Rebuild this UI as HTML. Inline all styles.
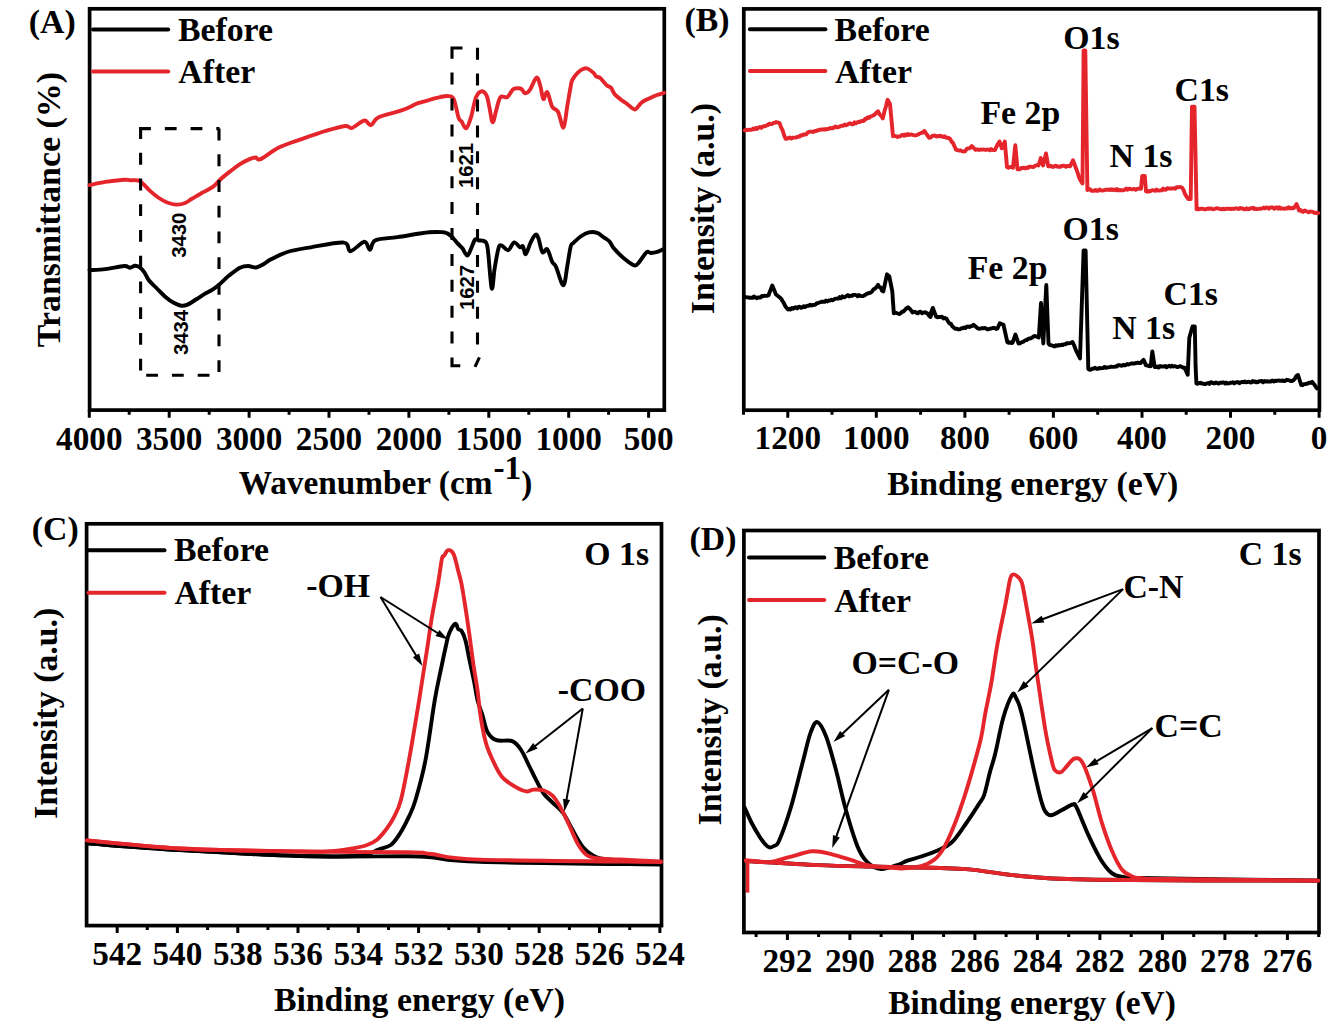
<!DOCTYPE html>
<html><head><meta charset="utf-8"><title>Figure</title>
<style>html,body{margin:0;padding:0;background:#fff;width:1333px;height:1021px;overflow:hidden}
svg{display:block}
text{font-family:"Liberation Serif",serif;font-weight:bold;fill:#000}
text.sans{font-family:"Liberation Sans",sans-serif;font-weight:bold}
</style></head><body>
<svg width="1333" height="1021" viewBox="0 0 1333 1021">
<rect width="1333" height="1021" fill="#fff"/>
<rect x="89.6" y="8.8" width="574.7" height="401.3" fill="none" stroke="#000" stroke-width="3.7"/>
<path d="M89.3 410.2V417.7M169.2 410.2V417.7M249.1 410.2V417.7M329.0 410.2V417.7M408.9 410.2V417.7M488.8 410.2V417.7M568.7 410.2V417.7M648.6 410.2V417.7M129.2 410.2V414.7M209.2 410.2V414.7M289.1 410.2V414.7M369.0 410.2V414.7M448.9 410.2V414.7M528.8 410.2V414.7M608.6 410.2V414.7" stroke="#000" stroke-width="3" fill="none"/>
<text x="89.3" y="449.5" font-size="33.2" text-anchor="middle">4000</text>
<text x="169.2" y="449.5" font-size="33.2" text-anchor="middle">3500</text>
<text x="249.1" y="449.5" font-size="33.2" text-anchor="middle">3000</text>
<text x="329.0" y="449.5" font-size="33.2" text-anchor="middle">2500</text>
<text x="408.9" y="449.5" font-size="33.2" text-anchor="middle">2000</text>
<text x="488.8" y="449.5" font-size="33.2" text-anchor="middle">1500</text>
<text x="568.7" y="449.5" font-size="33.2" text-anchor="middle">1000</text>
<text x="648.6" y="449.5" font-size="33.2" text-anchor="middle">500</text>
<text x="238.7" y="493.7" font-size="33.3">Wavenumber (cm<tspan dy="-15" dx="1">-1</tspan><tspan dy="15">)</tspan></text>
<text x="0" y="0" font-size="33.9" text-anchor="middle" transform="translate(59.5 209.6) rotate(-90)">Transmittance (%)</text>
<text x="28.8" y="33.3" font-size="33.8" >(A)</text>
<path d="M93.0 29.6H168.2" stroke="#000" stroke-width="4" stroke-linecap="round"/>
<path d="M93.0 71.6H168.2" stroke="#e4262c" stroke-width="4" stroke-linecap="round"/>
<text x="177.9" y="41.3" font-size="33.8" >Before</text>
<text x="178.3" y="83.0" font-size="33.8" >After</text>
<path d="M89.5 270.2C92.1 270.0 99.4 269.8 105.2 269.1C111.0 268.4 120.0 266.2 124.1 266.0C128.2 265.8 128.2 267.8 130.0 267.7C131.8 267.6 133.4 265.8 134.9 265.7C136.4 265.6 137.6 265.9 139.1 266.9C140.6 267.9 142.3 269.6 144.0 271.9C145.7 274.2 146.9 277.8 149.0 280.5C151.1 283.2 153.7 285.2 156.4 288.0C159.2 290.8 162.6 294.5 165.5 297.0C168.4 299.5 171.1 301.4 173.7 302.8C176.3 304.2 179.0 305.4 181.2 305.7C183.4 306.0 184.4 305.9 186.9 304.9C189.4 303.9 193.1 301.3 196.0 299.5C198.9 297.7 201.6 295.8 204.3 294.1C207.1 292.5 210.0 291.2 212.5 289.6C215.0 288.0 216.3 287.0 219.1 284.7C221.8 282.4 225.5 278.4 229.0 275.6C232.5 272.8 236.8 269.3 240.0 267.7C243.2 266.1 245.4 266.0 248.1 266.0C250.8 266.0 253.7 267.7 256.0 267.5C258.3 267.3 259.4 266.4 262.0 265.0C264.6 263.6 267.3 261.3 271.5 259.1C275.7 256.9 280.7 254.0 287.3 252.0C293.9 250.0 301.4 248.9 310.9 247.3C320.3 245.7 337.4 241.9 344.0 242.6C350.3 243.2 346.9 251.3 350.3 251.2C353.7 251.1 361.1 242.1 364.4 241.8C367.7 241.6 368.1 250.0 370.0 249.7C371.9 249.4 370.9 242.3 375.5 240.2C380.1 238.1 388.6 238.4 397.5 237.1C406.4 235.8 421.4 233.1 429.0 232.3C436.6 231.5 440.1 232.1 443.2 232.3C446.3 232.5 447.0 233.5 447.8 233.7C447.8 233.9 447.8 233.0 447.8 233.7C448.6 234.3 451.1 236.0 452.7 237.6C454.3 239.2 456.0 241.6 457.6 243.4C459.2 245.2 460.8 246.3 462.4 248.3C464.0 250.3 465.8 255.6 467.3 255.6C468.8 255.6 469.9 251.0 471.2 248.3C472.5 245.6 473.8 240.8 475.1 239.5C476.4 238.2 477.4 240.2 479.0 240.5C480.6 240.8 483.4 240.0 484.9 241.5C486.4 243.0 486.7 241.5 487.8 249.3C488.9 257.1 490.6 285.1 491.7 288.3C492.8 291.6 493.5 275.5 494.6 268.8C495.7 262.1 497.4 252.2 498.5 248.3C499.6 244.4 499.8 245.1 501.4 245.4C503.0 245.7 506.2 250.7 508.3 250.2C510.4 249.7 512.1 242.9 514.1 242.4C516.1 241.9 518.5 246.7 520.0 247.3C521.5 248.0 521.9 245.2 522.9 246.3C523.9 247.4 524.5 254.8 525.8 254.1C527.1 253.4 529.1 245.7 530.7 242.4C532.3 239.2 534.3 235.2 535.6 234.6C536.9 233.9 537.4 235.6 538.5 238.5C539.6 241.4 540.9 250.4 542.4 252.2C543.9 254.0 545.7 247.7 547.3 249.3C548.9 250.9 550.8 259.0 552.2 261.9C553.7 264.8 554.1 262.9 556.0 266.8C557.9 270.7 561.4 285.4 563.3 285.2C565.2 285.0 566.2 271.9 567.4 265.4C568.6 258.9 569.7 250.1 570.7 246.4C571.7 242.7 571.6 244.8 573.2 243.1C574.9 241.4 578.0 238.3 580.6 236.5C583.2 234.7 586.1 233.0 588.9 232.4C591.6 231.8 594.6 232.0 597.1 232.8C599.6 233.6 601.6 235.9 603.7 237.3C605.8 238.8 607.9 239.7 609.5 241.5C611.1 243.3 611.3 245.3 613.6 248.1C615.9 250.8 620.0 255.1 623.5 258.0C627.0 260.9 631.7 264.7 634.3 265.4C636.9 266.1 637.2 264.3 639.2 262.1C641.2 259.9 644.7 253.7 646.6 252.2C648.5 250.7 649.0 253.1 650.8 253.0C652.6 252.9 655.3 252.4 657.4 251.8C659.5 251.2 662.1 249.7 663.1 249.3" fill="none" stroke="#000" stroke-width="3.9" stroke-linejoin="round" stroke-linecap="round"/>
<path d="M89.5 185.1C92.1 184.6 99.4 182.8 105.2 181.9C111.0 181.0 120.0 180.1 124.1 179.8C128.2 179.5 127.6 180.1 130.0 180.2C132.4 180.3 136.1 179.9 138.3 180.5C140.5 181.1 141.1 182.1 143.2 183.9C145.2 185.7 148.0 189.1 150.6 191.4C153.2 193.8 156.2 196.2 158.9 198.0C161.7 199.8 164.2 201.4 167.1 202.5C170.0 203.6 173.3 204.5 176.2 204.6C179.1 204.7 181.9 204.3 184.5 203.3C187.1 202.3 189.0 200.5 191.9 198.8C194.8 197.1 198.4 194.9 201.8 193.0C205.2 191.1 209.3 189.5 212.5 187.2C215.7 184.9 217.7 181.8 220.8 179.0C223.9 176.2 228.1 173.0 231.3 170.5C234.5 168.0 237.0 166.1 240.0 164.2C243.0 162.3 246.9 160.2 249.5 159.1C252.1 158.0 254.0 157.5 255.8 157.5C257.6 157.5 256.6 160.8 260.5 159.1C264.4 157.4 272.3 150.7 279.4 147.3C286.5 143.9 295.1 141.4 303.0 138.6C310.9 135.8 319.5 132.8 326.6 130.7C333.7 128.6 341.3 126.5 345.5 126.0C349.7 125.5 348.7 128.9 351.8 128.0C354.9 127.1 361.2 121.0 364.4 120.5C367.6 120.0 368.4 125.7 370.8 125.2C373.2 124.7 373.4 119.8 378.6 117.3C383.9 114.8 395.7 112.5 402.3 110.2C408.9 107.9 413.0 105.0 418.0 103.2C423.0 101.4 428.5 100.2 432.2 99.2C435.9 98.2 437.4 97.6 440.0 97.1C442.6 96.6 445.5 95.8 447.8 96.1C450.1 96.4 451.9 95.4 453.7 99.0C455.5 102.6 457.2 113.8 458.5 117.5C459.8 121.2 460.2 119.6 461.5 121.4C462.8 123.2 464.7 129.1 466.3 128.3C467.9 127.5 469.6 121.8 471.2 116.6C472.8 111.4 474.3 101.3 476.1 97.1C477.9 92.9 480.1 91.4 481.9 91.2C483.7 91.0 485.5 93.2 486.8 96.1C488.1 99.0 488.7 104.4 489.7 108.8C490.7 113.2 491.5 122.4 492.7 122.4C493.9 122.4 495.3 113.0 496.6 108.8C497.9 104.6 498.7 99.0 500.5 97.1C502.3 95.1 505.2 98.4 507.3 97.1C509.4 95.8 511.3 90.8 513.1 89.3C514.9 87.8 516.5 88.3 518.0 88.3C519.5 88.3 520.8 88.5 521.9 89.3C523.0 90.1 523.5 93.0 524.8 93.2C526.1 93.4 527.8 92.8 529.7 90.2C531.7 87.6 534.7 78.2 536.5 77.6C538.3 76.9 539.2 82.7 540.4 86.3C541.5 89.9 542.2 98.0 543.4 99.0C544.5 100.0 545.8 90.9 547.3 92.2C548.8 93.5 550.4 103.5 552.2 106.8C554.0 110.0 556.1 108.2 558.0 111.7C559.9 115.2 562.0 128.3 563.5 127.6C565.0 126.9 565.9 114.1 567.1 107.3C568.3 100.5 569.7 91.5 570.6 87.0C571.5 82.5 571.1 82.3 572.3 80.0C573.5 77.7 575.8 74.7 577.6 72.9C579.4 71.1 581.3 69.7 582.9 69.0C584.5 68.3 585.5 67.8 587.3 68.5C589.1 69.2 592.0 71.6 593.5 72.9C595.0 74.2 594.9 75.5 596.1 76.4C597.3 77.3 598.7 76.7 600.5 78.2C602.3 79.7 604.9 83.7 606.7 85.3C608.5 86.9 609.8 86.4 611.1 87.9C612.4 89.4 612.8 92.0 614.6 94.1C616.4 96.1 619.6 98.6 621.7 100.2C623.8 101.8 624.8 102.2 627.0 103.8C629.2 105.3 632.5 109.7 634.9 109.5C637.2 109.3 638.9 104.7 641.1 102.9C643.3 101.1 645.5 100.2 648.1 98.9C650.8 97.6 654.4 96.0 657.0 95.0C659.6 94.0 662.8 93.2 664.0 92.8" fill="none" stroke="#e4262c" stroke-width="3.9" stroke-linejoin="round" stroke-linecap="round"/>
<path d="M139.1 128.6H219.5M140.6 127.1V374.8M219 128.6V374.8M146.2 375.3H212" fill="none" stroke="#000" stroke-width="3.1" stroke-dasharray="11.8 13.94"/>
<path d="M450.5 48H463M452 46.7V345M477.5 47.7V345" fill="none" stroke="#000" stroke-width="3.1" stroke-dasharray="12 13.9"/>
<path d="M452 357.6V365.8H460.3M479.4 357.4L475 366.8" fill="none" stroke="#000" stroke-width="3.1"/>
<text x="0" y="0" font-size="20.3" class="sans" text-anchor="middle" transform="translate(178.9 235.3) rotate(-90)" dominant-baseline="central">3430</text>
<text x="0" y="0" font-size="20.3" class="sans" text-anchor="middle" transform="translate(180.8 332.5) rotate(-90)" dominant-baseline="central">3434</text>
<text x="0" y="0" font-size="20.3" class="sans" text-anchor="middle" transform="translate(465.6 165.5) rotate(-90)" dominant-baseline="central">1621</text>
<text x="0" y="0" font-size="20.3" class="sans" text-anchor="middle" transform="translate(467.0 287.5) rotate(-90)" dominant-baseline="central">1627</text>
<rect x="743.8" y="8.9" width="575.6" height="401.3" fill="none" stroke="#000" stroke-width="3.7"/>
<path d="M787.8 410.2V417.7M876.3 410.2V417.7M964.9 410.2V417.7M1053.4 410.2V417.7M1142.0 410.2V417.7M1230.5 410.2V417.7M1319.1 410.2V417.7M743.5 410.2V414.7M832.0 410.2V414.7M920.6 410.2V414.7M1009.1 410.2V414.7M1097.7 410.2V414.7M1186.2 410.2V414.7M1274.8 410.2V414.7" stroke="#000" stroke-width="3" fill="none"/>
<text x="787.8" y="448.6" font-size="33.2" text-anchor="middle">1200</text>
<text x="876.3" y="448.6" font-size="33.2" text-anchor="middle">1000</text>
<text x="964.9" y="448.6" font-size="33.2" text-anchor="middle">800</text>
<text x="1053.4" y="448.6" font-size="33.2" text-anchor="middle">600</text>
<text x="1142.0" y="448.6" font-size="33.2" text-anchor="middle">400</text>
<text x="1230.5" y="448.6" font-size="33.2" text-anchor="middle">200</text>
<text x="1319.1" y="448.6" font-size="33.2" text-anchor="middle">0</text>
<text x="887.3" y="494.9" font-size="33.8" >Binding energy (eV)</text>
<text x="0" y="0" font-size="33.8" text-anchor="middle" transform="translate(714.4 208.6) rotate(-90)">Intensity (a.u.)</text>
<text x="684.4" y="30.6" font-size="33.8" >(B)</text>
<path d="M749.9 29.2H825.4" stroke="#000" stroke-width="4" stroke-linecap="round"/>
<path d="M749.9 70.9H825.4" stroke="#e4262c" stroke-width="4" stroke-linecap="round"/>
<text x="834.6" y="41.3" font-size="33.8" >Before</text>
<text x="835.0" y="83.0" font-size="33.8" >After</text>
<polyline points="744.8,130.4 746.2,129.8 747.5,130.1 748.9,129.7 750.3,129.9 751.7,129.8 753.0,128.6 754.4,129.2 755.8,127.9 757.1,128.9 758.5,127.5 759.9,127.0 761.3,127.9 762.6,126.6 764.0,126.2 765.3,126.3 766.7,125.2 768.0,125.0 769.3,123.7 770.7,124.1 772.0,124.0 773.3,123.0 774.7,122.9 776.0,122.0 779.6,123.2 781.1,127.4 782.6,130.3 784.1,135.3 785.6,138.8 787.0,138.8 788.4,138.1 789.8,137.4 791.2,138.6 792.6,137.8 794.0,137.6 795.4,137.5 796.8,137.3 798.2,136.6 799.5,136.5 800.9,135.1 802.3,135.3 803.7,134.3 805.1,134.6 806.5,134.1 807.8,132.3 809.2,131.9 810.6,131.6 812.0,131.6 813.4,132.1 814.8,130.9 816.2,131.0 817.5,130.2 818.9,130.2 820.3,129.7 821.7,129.4 823.1,129.5 824.5,129.3 825.8,129.5 827.2,128.9 828.6,129.0 830.0,128.0 831.3,128.3 832.7,128.3 834.0,127.5 835.3,126.4 836.7,127.3 838.0,127.2 839.3,126.8 840.7,126.0 842.0,125.6 843.4,125.7 844.8,124.6 846.2,125.3 847.5,124.6 848.9,123.8 850.3,123.2 851.7,124.3 853.1,124.2 854.5,122.4 855.8,123.3 857.2,122.4 858.6,121.7 860.0,122.0 861.3,121.0 862.7,121.1 864.0,120.6 865.3,118.6 866.7,118.9 868.0,117.2 869.3,117.7 870.7,116.4 872.0,116.0 873.5,115.4 875.0,114.4 876.5,112.4 878.0,111.2 879.6,114.4 881.2,115.7 882.8,118.4 884.4,111.5 886.0,106.2 887.6,99.8 890.0,104.0 893.0,136.3 894.5,135.7 896.0,136.3 897.5,137.0 898.8,136.5 900.1,136.4 901.4,135.3 902.8,134.7 904.1,135.8 905.4,134.4 906.7,135.2 908.0,134.0 909.5,135.0 911.0,134.4 912.5,134.8 914.0,135.2 915.5,135.5 917.0,135.0 918.5,134.2 920.0,133.4 921.5,132.7 923.0,132.5 924.5,131.0 926.0,133.3 927.5,135.4 929.0,137.8 930.5,137.6 932.0,136.2 933.5,135.7 935.0,135.5 936.4,136.5 937.7,136.0 939.0,136.3 940.4,135.6 941.8,136.5 943.1,137.0 944.5,136.3 945.8,137.5 947.1,137.8 948.5,137.8 950.0,138.8 951.5,141.5 953.0,143.0 956.0,149.8 957.5,150.0 959.0,150.6 960.5,150.3 962.0,151.2 963.5,151.5 965.0,151.3 966.4,149.4 967.7,148.4 969.1,148.4 970.4,147.8 971.8,146.0 975.5,149.8 976.8,149.4 978.1,149.7 979.4,150.0 980.7,149.5 982.0,149.6 983.3,149.5 984.6,149.6 985.9,150.0 987.2,149.5 988.5,149.6 989.8,150.3 991.1,149.0 992.4,149.9 993.7,150.2 995.0,149.8 996.5,146.7 998.0,143.8 999.5,141.5 1001.8,148.3 1004.8,141.5 1007.0,167.0 1008.5,167.7 1010.0,167.0 1011.5,167.1 1013.0,167.8 1015.3,145.3 1017.5,169.3 1018.8,169.0 1020.1,169.2 1021.4,167.9 1022.8,168.0 1024.1,167.8 1025.4,168.4 1026.7,167.5 1028.0,168.0 1029.3,166.6 1030.6,166.6 1031.9,166.9 1033.2,167.1 1034.6,166.1 1035.9,165.5 1037.2,165.1 1038.5,165.5 1040.8,158.0 1043.0,165.5 1046.0,153.5 1048.3,166.3 1049.7,166.4 1051.0,165.8 1052.4,166.8 1053.7,166.9 1055.1,165.8 1056.4,165.9 1057.8,166.8 1059.2,166.5 1060.5,166.8 1061.9,166.0 1063.2,165.7 1064.6,165.9 1065.9,166.8 1067.3,165.9 1068.6,166.0 1070.0,166.3 1073.0,160.3 1074.5,164.2 1076.0,168.2 1077.5,172.3 1079.0,177.2 1080.5,180.5 1082.5,183.5 1083.6,50.5 1085.3,50.5 1087.4,190.0 1088.7,189.4 1090.1,189.2 1091.4,190.8 1092.8,190.6 1094.1,190.8 1095.5,189.9 1096.8,190.8 1098.2,190.7 1099.5,189.5 1100.9,190.4 1102.2,190.6 1103.6,190.3 1104.9,190.0 1106.3,189.6 1107.6,189.7 1109.0,189.5 1110.3,190.0 1111.6,189.2 1113.0,190.0 1114.3,189.5 1115.6,190.3 1117.0,189.0 1118.3,190.4 1119.6,190.0 1121.0,190.3 1122.3,190.2 1123.6,190.2 1125.0,189.6 1126.3,188.5 1127.7,189.7 1129.0,188.7 1130.3,188.9 1131.7,189.4 1133.0,189.2 1134.3,188.9 1135.7,189.8 1137.0,189.1 1138.3,188.6 1139.7,188.4 1141.0,188.8 1142.2,176.0 1144.8,176.0 1146.0,191.3 1147.3,191.8 1148.7,191.0 1150.0,191.4 1151.3,190.5 1152.6,190.1 1154.0,190.5 1155.3,190.9 1156.6,189.6 1157.9,190.5 1159.3,190.6 1160.6,190.3 1161.9,190.2 1163.2,188.6 1164.6,189.5 1165.9,189.8 1167.2,188.3 1168.5,188.5 1169.9,188.4 1171.2,188.7 1172.5,188.4 1173.8,188.3 1175.2,188.7 1176.5,187.2 1177.8,187.2 1179.1,187.1 1180.5,187.0 1181.8,187.5 1183.4,189.6 1185.0,194.1 1186.6,196.7 1188.2,199.0 1190.7,199.0 1192.0,106.6 1194.5,106.6 1196.6,209.2 1197.9,208.5 1199.2,209.2 1200.5,208.8 1201.9,208.8 1203.2,208.9 1204.5,209.3 1205.8,209.2 1207.1,208.8 1208.4,208.5 1209.8,208.7 1211.1,208.4 1212.4,209.1 1213.7,209.3 1215.0,208.8 1216.3,208.2 1217.7,208.4 1219.0,208.7 1220.3,209.1 1221.6,209.3 1222.9,208.6 1224.2,209.3 1225.6,209.0 1226.9,208.7 1228.2,208.6 1229.5,208.8 1230.8,209.1 1232.1,208.6 1233.5,209.0 1234.8,208.6 1236.1,208.2 1237.4,208.7 1238.7,209.0 1240.0,207.9 1241.4,208.5 1242.7,208.5 1244.0,209.2 1245.3,209.3 1246.6,208.3 1247.9,209.2 1249.2,209.0 1250.6,208.1 1251.9,208.4 1253.2,207.8 1254.5,209.0 1255.8,208.7 1257.1,209.1 1258.5,208.9 1259.8,208.6 1261.1,208.7 1262.4,208.4 1263.7,207.6 1265.0,208.4 1266.4,207.4 1267.7,207.6 1269.0,208.7 1270.3,207.4 1271.6,207.5 1272.9,207.5 1274.3,208.8 1275.6,207.6 1276.9,207.3 1278.2,208.7 1279.5,207.4 1280.8,208.7 1282.2,208.4 1283.5,208.6 1284.8,208.8 1286.1,208.1 1287.4,208.5 1288.7,207.2 1290.1,208.4 1291.4,208.0 1292.7,208.3 1294.0,207.9 1296.6,204.1 1299.1,210.5 1300.5,210.0 1301.8,211.3 1303.2,211.8 1304.6,210.5 1306.0,211.1 1307.3,211.7 1308.7,212.3 1310.1,211.5 1311.4,211.6 1312.8,211.9 1314.2,212.7 1315.6,213.1 1316.9,212.6 1318.3,213.0" fill="none" stroke="#e4262c" stroke-width="3.9" stroke-linejoin="round" stroke-linecap="round"/>
<polyline points="744.5,296.8 745.9,297.1 747.2,297.4 748.5,297.5 749.9,297.8 751.2,297.6 752.6,297.9 754.0,296.5 755.3,297.3 756.6,298.2 758.0,297.5 759.3,297.5 760.6,297.6 761.9,296.0 763.2,296.3 764.6,295.7 765.9,295.9 767.2,295.7 768.5,295.3 772.3,285.5 776.0,294.5 779.8,297.5 781.2,298.7 782.5,301.0 783.9,303.1 785.3,306.2 786.6,308.0 788.0,309.5 789.3,308.7 790.6,309.5 791.9,308.1 793.2,308.7 794.5,307.6 795.8,307.2 797.1,308.4 798.4,307.0 799.7,306.8 801.0,307.9 802.3,307.4 803.6,306.2 804.9,307.1 806.2,306.1 807.5,305.8 808.8,305.8 810.1,304.7 811.5,305.6 812.8,304.9 814.1,305.0 815.4,304.6 816.8,303.3 818.1,303.1 819.4,302.4 820.7,302.1 822.1,301.6 823.4,301.7 824.7,301.9 826.0,300.6 827.4,301.4 828.7,300.5 830.0,300.5 831.4,299.8 832.8,300.3 834.1,299.3 835.5,298.7 836.9,298.6 838.2,298.6 839.6,297.1 841.0,298.3 842.4,296.3 843.8,297.2 845.1,297.0 846.5,296.0 847.9,295.1 849.3,296.4 850.7,295.6 852.0,295.9 853.4,294.9 854.8,294.9 856.2,295.1 857.6,296.3 859.0,295.0 860.3,295.9 861.7,296.1 863.1,296.1 864.5,295.3 866.0,294.3 867.5,293.5 869.0,293.1 870.5,292.7 872.0,291.5 873.5,289.2 875.0,288.6 876.5,287.0 878.0,284.8 879.3,287.1 880.6,287.4 882.0,290.6 883.3,291.5 887.0,274.3 889.3,276.5 892.3,291.5 893.8,313.3 895.1,312.6 896.5,313.0 897.8,313.5 899.2,314.0 900.5,313.3 902.0,311.8 903.5,311.6 905.0,309.8 906.5,308.2 908.0,307.3 909.5,308.7 911.0,310.2 912.5,312.5 913.9,311.8 915.2,311.9 916.5,312.8 917.9,313.3 919.2,311.9 920.6,311.7 922.0,313.3 923.3,312.6 924.6,312.3 926.0,312.5 927.5,313.6 929.0,315.7 930.5,317.0 932.8,308.0 930.0,315.0 933.0,308.3 936.0,316.5 937.5,317.3 939.0,316.9 940.5,317.1 942.0,316.7 943.5,318.5 945.0,318.0 946.5,318.8 948.0,321.3 949.5,323.5 951.0,323.9 952.5,326.6 954.0,327.8 955.5,328.9 957.0,328.8 958.5,329.4 960.0,329.3 961.4,328.2 962.7,328.3 964.0,327.4 965.4,328.1 966.8,326.7 968.1,326.5 969.5,327.0 970.8,326.3 972.1,326.1 973.5,324.8 975.0,326.0 976.5,327.2 978.0,328.5 979.3,328.9 980.6,328.5 981.9,328.1 983.2,328.3 984.5,327.9 985.8,328.3 987.1,329.3 988.4,329.3 989.7,328.7 991.0,328.5 992.3,328.2 993.6,327.8 994.9,328.1 996.2,329.0 997.5,328.5 999.8,323.3 1003.5,324.8 1007.3,342.0 1008.6,342.8 1009.9,342.2 1011.2,343.1 1012.5,342.8 1015.5,334.5 1018.5,343.5 1019.9,343.3 1021.2,342.6 1022.6,341.9 1024.0,341.4 1025.4,340.1 1026.8,340.1 1028.1,338.8 1029.5,338.5 1030.9,338.3 1032.2,337.6 1033.6,336.3 1035.0,336.0 1038.8,337.5 1041.0,303.0 1043.3,343.5 1046.3,285.0 1048.5,343.5 1050.0,345.0 1051.5,345.3 1053.0,345.9 1054.5,346.5 1055.9,345.3 1057.3,345.9 1058.7,345.0 1060.0,345.4 1061.4,344.7 1062.8,345.0 1064.2,344.3 1065.6,344.2 1067.0,343.1 1068.3,343.3 1069.7,343.1 1071.1,342.9 1072.5,342.0 1074.0,345.0 1075.5,349.2 1077.0,352.5 1078.5,355.5 1080.0,358.5 1083.6,250.5 1085.6,250.5 1088.3,369.0 1089.7,369.7 1091.0,369.5 1092.4,368.7 1093.7,368.5 1095.1,367.8 1096.4,368.8 1097.8,368.9 1099.2,368.0 1100.5,368.2 1101.9,368.1 1103.2,368.0 1104.6,366.9 1105.9,367.9 1107.3,367.4 1108.6,367.4 1110.0,367.0 1111.3,366.7 1112.7,366.9 1114.0,366.9 1115.3,366.5 1116.6,366.5 1118.0,365.2 1119.3,365.2 1120.6,365.5 1121.9,365.7 1123.3,364.8 1124.6,365.4 1125.9,365.1 1127.2,364.0 1128.6,364.5 1129.9,363.9 1131.2,363.5 1132.5,363.4 1133.9,363.6 1135.2,363.2 1136.5,363.0 1137.8,362.6 1139.2,363.1 1140.5,363.0 1143.6,359.9 1146.0,365.4 1147.6,365.5 1149.1,366.1 1150.7,366.2 1152.3,351.4 1154.7,367.0 1156.0,367.1 1157.4,366.5 1158.7,367.6 1160.0,366.0 1161.3,366.6 1162.7,366.4 1164.0,366.6 1165.3,366.0 1166.6,367.2 1168.0,366.4 1169.3,365.7 1170.6,366.7 1171.9,365.8 1173.3,366.5 1174.6,366.1 1175.9,366.5 1177.2,367.1 1178.6,366.8 1179.9,366.2 1181.5,366.6 1183.0,367.7 1184.6,367.7 1187.7,374.8 1189.3,337.8 1192.5,326.5 1194.8,326.5 1195.6,366.2 1196.4,383.5 1197.7,383.7 1199.0,383.2 1200.3,382.8 1201.6,383.5 1202.9,383.5 1204.2,384.1 1205.5,384.1 1206.8,383.4 1208.1,383.0 1209.4,383.9 1210.7,382.3 1212.0,382.5 1213.3,383.2 1214.7,383.3 1216.0,382.4 1217.3,383.2 1218.6,383.6 1219.9,382.7 1221.2,382.8 1222.5,382.4 1223.8,382.5 1225.1,383.6 1226.4,382.6 1227.7,383.5 1229.0,383.4 1230.3,382.7 1231.6,382.8 1232.9,382.2 1234.2,383.4 1235.5,382.5 1236.9,382.3 1238.2,382.1 1239.5,383.2 1240.8,382.3 1242.1,381.9 1243.4,382.2 1244.7,381.5 1246.0,382.3 1247.4,382.0 1248.7,381.6 1250.0,382.4 1251.3,382.5 1252.6,381.0 1253.9,381.9 1255.2,381.4 1256.5,382.4 1257.9,382.1 1259.2,381.2 1260.5,381.2 1261.8,380.9 1263.1,382.3 1264.4,381.0 1265.7,381.5 1267.0,381.3 1268.4,381.5 1269.7,381.4 1271.0,381.6 1272.3,380.5 1273.6,381.5 1274.9,380.7 1276.2,381.0 1277.5,380.6 1278.9,380.5 1280.2,380.9 1281.5,380.7 1282.8,380.5 1284.1,381.1 1285.4,380.8 1286.7,379.8 1288.0,380.1 1289.4,380.4 1290.7,381.1 1292.0,381.0 1293.3,380.3 1294.9,378.6 1296.4,375.9 1298.0,375.0 1301.2,385.0 1302.6,385.1 1304.0,384.1 1305.3,384.0 1306.7,383.8 1308.1,383.3 1309.5,382.6 1310.8,383.0 1312.2,381.9 1313.8,383.9 1315.4,386.1 1317.0,388.5" fill="none" stroke="#000" stroke-width="3.9" stroke-linejoin="round" stroke-linecap="round"/>
<text x="1063.3" y="48.5" font-size="33.8" >O1s</text>
<text x="1174.5" y="100.8" font-size="33.8" >C1s</text>
<text x="980.4" y="124.3" font-size="33.8" >Fe 2p</text>
<text x="1109.6" y="167.1" font-size="33.8" >N 1s</text>
<text x="1062.5" y="240.3" font-size="33.8" >O1s</text>
<text x="1163.5" y="304.6" font-size="33.8" >C1s</text>
<text x="967.7" y="279.0" font-size="33.8" >Fe 2p</text>
<text x="1112.2" y="339.0" font-size="33.8" >N 1s</text>
<rect x="86.6" y="523.8" width="574.9" height="401.8" fill="none" stroke="#000" stroke-width="3.7"/>
<path d="M117.2 925.5V933.0M177.4 925.5V933.0M237.8 925.5V933.0M298.0 925.5V933.0M358.3 925.5V933.0M418.6 925.5V933.0M478.9 925.5V933.0M539.2 925.5V933.0M599.5 925.5V933.0M659.9 925.5V933.0M147.3 925.5V930.0M207.6 925.5V930.0M267.9 925.5V930.0M328.2 925.5V930.0M388.5 925.5V930.0M448.8 925.5V930.0M509.1 925.5V930.0M569.4 925.5V930.0M629.7 925.5V930.0" stroke="#000" stroke-width="3" fill="none"/>
<text x="117.2" y="964.7" font-size="33.2" text-anchor="middle">542</text>
<text x="177.4" y="964.7" font-size="33.2" text-anchor="middle">540</text>
<text x="237.8" y="964.7" font-size="33.2" text-anchor="middle">538</text>
<text x="298.0" y="964.7" font-size="33.2" text-anchor="middle">536</text>
<text x="358.3" y="964.7" font-size="33.2" text-anchor="middle">534</text>
<text x="418.6" y="964.7" font-size="33.2" text-anchor="middle">532</text>
<text x="478.9" y="964.7" font-size="33.2" text-anchor="middle">530</text>
<text x="539.2" y="964.7" font-size="33.2" text-anchor="middle">528</text>
<text x="599.5" y="964.7" font-size="33.2" text-anchor="middle">526</text>
<text x="659.9" y="964.7" font-size="33.2" text-anchor="middle">524</text>
<text x="273.9" y="1010.6" font-size="33.8" >Binding energy (eV)</text>
<text x="0" y="0" font-size="33.8" text-anchor="middle" transform="translate(57.3 713.3) rotate(-90)">Intensity (a.u.)</text>
<text x="31.8" y="540.0" font-size="33.8" >(C)</text>
<path d="M88.5 550.3H164.5" stroke="#000" stroke-width="4" stroke-linecap="round"/>
<path d="M88.5 592.8H164.5" stroke="#e4262c" stroke-width="4" stroke-linecap="round"/>
<text x="174.0" y="561.0" font-size="33.8" >Before</text>
<text x="174.4" y="603.9" font-size="33.8" >After</text>
<path d="M87.0 843.4C102.5 844.5 144.5 847.9 180.0 850.0C215.5 852.1 261.9 855.0 300.0 856.0C338.1 857.0 386.9 856.1 408.8 856.3C430.7 856.5 419.4 856.5 431.3 857.4C443.2 858.3 441.7 860.7 480.0 861.9C518.3 863.1 630.8 864.1 661.0 864.5" fill="none" stroke="#000" stroke-width="3.9" stroke-linejoin="round" stroke-linecap="round"/>
<path d="M87.0 843.4C102.5 844.5 144.5 847.9 180.0 850.0C215.5 852.1 270.0 855.1 300.0 856.0C330.0 856.9 346.9 856.6 360.0 855.5C373.1 854.4 373.3 851.2 378.4 849.5C383.5 847.8 387.2 847.6 390.8 845.0C394.4 842.4 396.8 838.5 399.8 833.8C402.8 829.1 406.2 822.5 408.8 816.9C411.4 811.3 412.7 809.5 415.5 800.0C418.3 790.5 422.3 776.7 425.5 760.0C428.7 743.3 432.2 715.0 434.8 699.8C437.4 684.5 439.3 677.4 441.1 668.5C442.9 659.6 444.5 652.2 445.8 646.5C447.1 640.8 447.3 637.8 448.9 634.0C450.5 630.2 453.6 624.6 455.2 623.8C456.8 623.0 457.2 628.1 458.3 629.3C459.4 630.5 460.3 629.1 461.5 630.9C462.7 632.7 464.1 635.6 465.4 640.3C466.7 645.0 467.9 652.3 469.3 659.1C470.7 665.9 472.6 674.2 474.0 681.0C475.4 687.8 476.1 694.4 477.5 700.0C478.9 705.6 480.6 709.3 482.3 714.7C484.0 720.1 485.2 728.0 487.6 732.3C490.0 736.5 492.3 738.7 496.4 740.2C500.5 741.7 508.2 739.5 512.3 741.1C516.4 742.7 518.5 746.2 521.1 750.0C523.8 753.8 525.6 758.7 528.2 764.0C530.9 769.3 534.4 776.7 537.0 781.7C539.6 786.7 541.4 790.5 544.0 794.0C546.6 797.5 549.6 799.6 552.8 802.8C556.0 806.0 560.2 809.0 563.4 813.4C566.6 817.8 569.0 823.7 572.2 829.3C575.4 834.9 579.3 842.5 582.8 846.9C586.3 851.3 589.3 853.6 593.4 855.7C597.5 857.8 596.2 858.4 607.5 859.5C618.8 860.6 652.1 862.0 661.0 862.5" fill="none" stroke="#000" stroke-width="3.9" stroke-linejoin="round" stroke-linecap="round"/>
<path d="M87.0 840.4C102.5 841.8 144.5 846.6 180.0 848.5C215.5 850.4 261.9 850.9 300.0 851.5C338.1 852.1 386.9 851.9 408.8 852.3C430.7 852.7 419.4 852.8 431.3 854.0C443.2 855.2 441.7 858.3 480.0 859.6C518.3 860.9 630.8 861.6 661.0 862.0" fill="none" stroke="#e4262c" stroke-width="3.9" stroke-linejoin="round" stroke-linecap="round"/>
<path d="M87.0 840.4C102.5 841.8 144.5 846.6 180.0 848.5C215.5 850.4 275.0 851.0 300.0 851.5C325.0 852.0 321.2 851.7 330.0 851.2C338.8 850.7 346.3 849.4 352.5 848.4C358.7 847.4 363.0 846.5 367.1 845.0C371.2 843.5 374.1 842.0 377.3 839.4C380.5 836.8 383.5 833.0 386.3 829.3C389.1 825.5 391.7 821.8 394.1 816.9C396.5 812.0 398.4 809.5 400.9 800.0C403.4 790.5 405.9 776.7 409.0 760.0C412.1 743.3 416.2 718.2 419.2 699.8C422.2 681.4 424.9 663.3 427.0 649.7C429.1 636.1 429.9 629.3 431.7 618.3C433.5 607.3 436.3 593.8 438.0 583.9C439.7 574.0 440.9 563.5 441.9 558.8C442.9 554.1 443.2 557.1 444.2 555.7C445.2 554.3 446.5 550.5 448.1 550.2C449.7 549.9 451.9 550.6 453.6 554.1C455.3 557.6 457.0 566.3 458.3 571.3C459.6 576.3 460.3 577.9 461.5 583.9C462.7 589.9 464.1 599.0 465.4 607.4C466.7 615.8 467.9 623.8 469.3 634.0C470.7 644.2 472.6 659.2 474.0 668.5C475.4 677.8 476.4 682.0 477.5 690.0C478.6 698.0 479.2 707.6 480.6 716.4C482.0 725.2 483.8 735.5 485.9 742.9C487.9 750.2 490.3 754.9 492.9 760.5C495.5 766.1 498.2 772.1 501.7 776.4C505.2 780.7 510.0 783.6 514.1 786.1C518.2 788.6 523.2 790.8 526.4 791.4C529.6 792.0 530.6 789.8 533.5 789.6C536.4 789.5 540.8 789.5 544.0 790.5C547.2 791.5 550.1 793.2 552.8 795.8C555.4 798.4 557.2 801.6 559.9 806.3C562.5 811.0 565.8 817.8 568.7 824.0C571.6 830.2 574.6 838.3 577.5 843.4C580.4 848.5 583.1 852.3 586.3 854.8C589.5 857.3 591.3 857.5 596.9 858.3C602.5 859.1 609.3 859.0 620.0 859.5C630.7 860.0 654.2 861.2 661.0 861.5" fill="none" stroke="#e4262c" stroke-width="3.9" stroke-linejoin="round" stroke-linecap="round"/>
<text x="584.3" y="564.6" font-size="33.8" >O 1s</text>
<text x="306.2" y="597.0" font-size="33.8" >-OH</text>
<text x="557.8" y="700.6" font-size="33.8" >-COO</text>
<path d="M380.5 597.0L439.1 634.0" stroke="#000" stroke-width="2.0"/>
<path d="M448.0 639.6L435.5 636.0L439.4 629.9Z" fill="#000"/>
<path d="M380.5 597.0L417.0 657.0" stroke="#000" stroke-width="2.0"/>
<path d="M422.5 666.0L412.9 657.2L419.1 653.5Z" fill="#000"/>
<path d="M582.8 708.5L533.8 747.0" stroke="#000" stroke-width="2.0"/>
<path d="M525.5 753.5L533.1 742.9L537.6 748.6Z" fill="#000"/>
<path d="M582.8 708.5L566.2 801.3" stroke="#000" stroke-width="2.0"/>
<path d="M564.3 811.6L563.0 798.7L570.1 799.9Z" fill="#000"/>
<rect x="743.9" y="530.5" width="575.1" height="402.0" fill="none" stroke="#000" stroke-width="3.7"/>
<path d="M787.4 932.5V940.0M849.9 932.5V940.0M912.4 932.5V940.0M974.9 932.5V940.0M1037.4 932.5V940.0M1099.9 932.5V940.0M1162.4 932.5V940.0M1224.9 932.5V940.0M1287.4 932.5V940.0M756.1 932.5V937.0M818.6 932.5V937.0M881.1 932.5V937.0M943.6 932.5V937.0M1006.1 932.5V937.0M1068.7 932.5V937.0M1131.2 932.5V937.0M1193.7 932.5V937.0M1256.2 932.5V937.0M1318.7 932.5V937.0" stroke="#000" stroke-width="3" fill="none"/>
<text x="787.4" y="971.7" font-size="33.2" text-anchor="middle">292</text>
<text x="849.9" y="971.7" font-size="33.2" text-anchor="middle">290</text>
<text x="912.4" y="971.7" font-size="33.2" text-anchor="middle">288</text>
<text x="974.9" y="971.7" font-size="33.2" text-anchor="middle">286</text>
<text x="1037.4" y="971.7" font-size="33.2" text-anchor="middle">284</text>
<text x="1099.9" y="971.7" font-size="33.2" text-anchor="middle">282</text>
<text x="1162.4" y="971.7" font-size="33.2" text-anchor="middle">280</text>
<text x="1224.9" y="971.7" font-size="33.2" text-anchor="middle">278</text>
<text x="1287.4" y="971.7" font-size="33.2" text-anchor="middle">276</text>
<text x="888.3" y="1013.6" font-size="33.4" >Binding energy (eV)</text>
<text x="0" y="0" font-size="33.8" text-anchor="middle" transform="translate(720.8 719.9) rotate(-90)">Intensity (a.u.)</text>
<text x="689.6" y="550.2" font-size="33.8" >(D)</text>
<path d="M749.0 557.4H824.3" stroke="#000" stroke-width="4" stroke-linecap="round"/>
<path d="M749.0 600.1H824.3" stroke="#e4262c" stroke-width="4" stroke-linecap="round"/>
<text x="833.8" y="568.7" font-size="33.8" >Before</text>
<text x="834.2" y="611.5" font-size="33.8" >After</text>
<path d="M745.9 861.0C758.0 861.7 795.9 864.1 818.3 865.1C840.6 866.1 856.0 866.2 880.0 866.8C904.0 867.4 938.8 867.4 962.3 868.9C985.8 870.4 998.9 874.2 1021.0 876.0C1043.1 877.8 1045.5 879.0 1095.0 879.8C1144.5 880.6 1280.8 880.5 1318.0 880.6" fill="none" stroke="#000" stroke-width="3.9" stroke-linejoin="round" stroke-linecap="round"/>
<path d="M744.5 807.3C745.7 809.9 749.2 818.1 751.7 823.0C754.2 827.9 757.4 833.2 759.6 836.7C761.8 840.2 763.4 842.2 765.0 844.0C766.6 845.8 767.9 847.1 769.4 847.4C770.9 847.7 772.4 847.1 774.0 846.0C775.6 844.9 776.4 847.1 779.2 840.6C782.0 834.1 787.0 820.4 790.9 807.3C794.8 794.2 799.4 774.6 802.7 762.2C806.0 749.8 808.0 739.6 810.5 732.9C813.0 726.2 814.8 721.5 817.4 722.1C820.0 722.8 823.1 728.8 826.2 736.8C829.3 744.8 832.8 758.0 836.0 770.1C839.2 782.2 842.1 796.6 845.7 809.3C849.3 822.0 853.9 837.6 857.5 846.4C861.1 855.2 863.4 858.3 867.3 862.1C871.2 865.9 875.8 868.6 881.0 869.0C886.2 869.4 894.2 865.9 898.6 864.5C903.0 863.1 903.6 861.9 907.4 860.6C911.1 859.3 916.1 858.2 921.1 856.5C926.1 854.8 932.6 852.7 937.6 850.4C942.6 848.1 946.7 847.0 951.3 842.8C955.9 838.6 960.4 831.4 965.0 825.0C969.6 818.6 975.5 809.4 978.7 804.4C981.9 799.4 982.4 800.0 984.2 794.8C986.0 789.5 987.9 779.8 989.7 772.9C991.5 766.0 993.0 762.9 995.2 753.7C997.5 744.6 1000.4 727.8 1003.2 718.0C1006.0 708.2 1010.0 698.3 1012.1 695.0C1014.2 691.7 1014.4 694.9 1016.0 698.0C1017.6 701.1 1018.8 701.8 1021.7 713.5C1024.6 725.2 1030.3 753.9 1033.5 768.3C1036.7 782.7 1039.0 792.8 1041.0 800.0C1043.0 807.2 1043.5 808.9 1045.2 811.4C1046.9 813.9 1048.3 815.5 1051.1 815.3C1053.9 815.1 1058.4 811.8 1062.0 810.0C1065.6 808.2 1070.3 804.9 1072.7 804.5C1075.1 804.1 1074.0 802.4 1076.6 807.5C1079.2 812.6 1084.4 826.4 1088.3 834.9C1092.2 843.4 1096.2 852.0 1100.1 858.4C1104.0 864.8 1107.9 870.0 1111.8 873.1C1115.7 876.2 1118.9 876.2 1123.6 877.0C1128.3 877.8 1123.6 877.4 1140.0 878.0C1172.4 878.6 1288.3 880.2 1318.0 880.6" fill="none" stroke="#000" stroke-width="3.9" stroke-linejoin="round" stroke-linecap="round"/>
<path d="M745.9 861.0C758.0 861.7 795.9 864.1 818.3 865.1C840.6 866.1 856.0 866.2 880.0 866.8C904.0 867.4 938.8 867.4 962.3 868.9C985.8 870.4 998.9 874.2 1021.0 876.0C1043.1 877.8 1045.5 879.0 1095.0 879.8C1144.5 880.6 1280.8 880.5 1318.0 880.6" fill="none" stroke="#e4262c" stroke-width="3.9" stroke-linejoin="round" stroke-linecap="round"/>
<path d="M745.9 860.2C749.8 860.5 762.2 862.6 769.4 862.1C776.6 861.6 781.8 859.0 789.0 857.2C796.2 855.4 805.3 851.8 812.5 851.3C819.7 850.8 825.5 852.8 832.0 854.3C838.5 855.8 845.7 858.4 851.6 860.2C857.5 862.0 859.5 863.7 867.3 865.1C875.1 866.5 889.6 868.2 898.6 868.4C907.6 868.6 915.1 867.6 921.1 866.1C927.1 864.6 930.9 862.5 934.8 859.3C938.7 856.1 941.0 853.1 944.4 846.9C947.8 840.7 952.0 831.0 955.4 822.3C958.8 813.6 962.0 803.9 965.0 794.8C968.0 785.6 970.5 776.9 973.2 767.4C975.9 757.9 979.0 746.7 981.0 738.0C983.0 729.3 983.3 724.3 985.0 715.0C986.7 705.7 989.3 694.3 991.4 682.3C993.5 670.3 995.2 656.2 997.6 643.1C1000.0 630.0 1003.4 614.6 1005.5 603.9C1007.6 593.2 1008.9 583.7 1010.2 578.8C1011.5 573.9 1012.1 574.9 1013.3 574.5C1014.5 574.1 1016.3 575.6 1017.5 576.5C1018.7 577.4 1019.6 578.4 1020.5 580.0C1021.4 581.6 1021.6 580.7 1022.7 586.0C1023.9 591.3 1025.8 603.0 1027.4 611.7C1029.0 620.4 1030.5 628.2 1032.1 638.4C1033.7 648.6 1034.6 657.8 1036.8 672.9C1039.0 688.0 1042.7 714.4 1045.2 729.2C1047.7 744.1 1050.4 755.1 1052.0 762.0C1053.6 768.9 1053.5 768.6 1055.0 770.3C1056.5 772.0 1058.9 772.9 1060.9 772.2C1062.9 771.5 1064.7 768.3 1067.0 766.0C1069.3 763.7 1072.0 759.1 1074.6 758.5C1077.2 757.9 1079.5 757.5 1082.4 762.4C1085.3 767.3 1088.9 777.8 1092.2 787.9C1095.5 798.0 1098.7 812.8 1102.0 823.2C1105.3 833.7 1108.5 842.9 1111.8 850.6C1115.1 858.3 1118.3 865.0 1121.6 869.2C1124.9 873.4 1127.3 874.4 1131.4 876.0C1135.5 877.6 1131.4 877.8 1146.1 878.6C1177.2 879.4 1289.6 880.3 1318.3 880.6" fill="none" stroke="#e4262c" stroke-width="3.9" stroke-linejoin="round" stroke-linecap="round"/>
<path d="M747.6 860.5V892.6" stroke="#e4262c" stroke-width="3.5"/>
<text x="851.5" y="673.8" font-size="33.8" >O=C-O</text>
<text x="1238.7" y="564.8" font-size="33.8" >C 1s</text>
<text x="1123.4" y="598.0" font-size="33.8" >C-N</text>
<text x="1154.6" y="737.0" font-size="33.8" >C=C</text>
<path d="M888.9 689.8L841.1 734.9" stroke="#000" stroke-width="2.0"/>
<path d="M833.5 742.1L840.1 730.9L845.1 736.1Z" fill="#000"/>
<path d="M888.9 689.8L835.7 838.1" stroke="#000" stroke-width="2.0"/>
<path d="M832.2 848.0L833.0 835.0L839.8 837.4Z" fill="#000"/>
<path d="M1123.1 589.1L1041.1 619.8" stroke="#000" stroke-width="2.0"/>
<path d="M1031.3 623.5L1041.7 615.7L1044.3 622.5Z" fill="#000"/>
<path d="M1123.1 589.1L1024.7 685.1" stroke="#000" stroke-width="2.0"/>
<path d="M1017.2 692.4L1023.6 681.1L1028.7 686.2Z" fill="#000"/>
<path d="M1152.4 728.1L1095.1 762.2" stroke="#000" stroke-width="2.0"/>
<path d="M1086.1 767.6L1095.0 758.1L1098.7 764.3Z" fill="#000"/>
<path d="M1152.4 728.1L1084.6 795.9" stroke="#000" stroke-width="2.0"/>
<path d="M1077.2 803.3L1083.5 791.9L1088.6 797.0Z" fill="#000"/>
</svg></body></html>
